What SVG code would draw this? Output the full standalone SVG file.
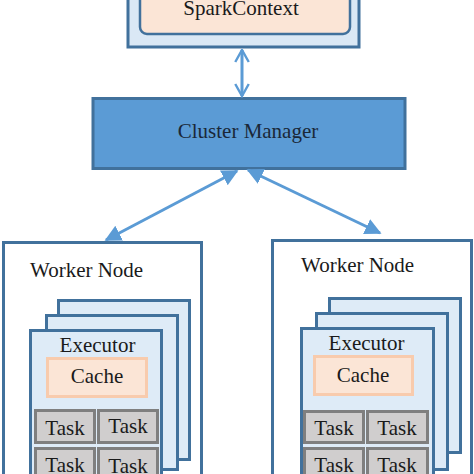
<svg xmlns="http://www.w3.org/2000/svg" width="474" height="474" viewBox="0 0 474 474" font-family="'Liberation Serif', 'DejaVu Serif', serif">
<style>
text{font-family:'Liberation Serif','DejaVu Serif',serif;font-size:21px;fill:#1a1a1a}
.worker{fill:#ffffff;stroke:#41719c;stroke-width:3}
.exec{fill:#deebf7;stroke:#41719c;stroke-width:3}
.cache{fill:#fbe5d6;stroke:#f8cbad;stroke-width:3}
.task{fill:#d0cece;stroke:#7f7f7f;stroke-width:3}
.conn{stroke:#5b9bd5;stroke-width:3;fill:none}
</style>
<defs>
<marker id="tri" viewBox="0 0 10 10" refX="9" refY="5" markerWidth="5.5" markerHeight="5.5" orient="auto-start-reverse" markerUnits="strokeWidth">
<path d="M0,0 L10,5 L0,10 z" fill="#5b9bd5"/>
</marker>
<marker id="chev" viewBox="0 0 10 10" refX="9" refY="5" markerWidth="5" markerHeight="6" orient="auto-start-reverse" markerUnits="strokeWidth">
<path d="M1,0.5 L9,5 L1,9.5" fill="none" stroke="#5b9bd5" stroke-width="1.6"/>
</marker>
</defs>

<g id="driver">
<rect x="128" y="-10" width="231" height="57" fill="#dae8f5" stroke="#41719c" stroke-width="3"/>
<rect x="140" y="-10" width="210" height="44" rx="7" fill="#fbe5d6" stroke="#41719c" stroke-width="2.5"/>
<text x="241" y="15" text-anchor="middle">SparkContext</text>
</g>

<g id="cluster-manager">
<rect x="93" y="98.5" width="312" height="70" fill="#5b9bd5" stroke="#41719c" stroke-width="3"/>
<text x="248" y="138" text-anchor="middle" style="fill:#1a2838">Cluster Manager</text>
</g>

<g id="connectors">
<line class="conn" x1="242" y1="50" x2="242" y2="96" marker-start="url(#chev)" marker-end="url(#chev)"/>
<line class="conn" x1="106" y1="240" x2="237" y2="171" marker-start="url(#tri)" marker-end="url(#tri)"/>
<line class="conn" x1="248" y1="170" x2="380" y2="233" marker-start="url(#tri)" marker-end="url(#tri)"/>
</g>

<g id="worker-left">
<rect class="worker" x="3.5" y="242.5" width="198" height="240"/>
<text x="30" y="277">Worker Node</text>
<rect class="exec" x="58.5" y="300.5" width="131" height="159"/>
<rect class="exec" x="46.5" y="315.5" width="131" height="154"/>
<rect class="exec" x="30.5" y="330.5" width="131" height="160"/>
<text x="97.5" y="352" text-anchor="middle">Executor</text>
<rect class="cache" x="47.5" y="358.5" width="99" height="38"/>
<text x="97" y="383" text-anchor="middle">Cache</text>
<rect class="task" x="35.5" y="410.5" width="59" height="32"/>
<rect class="task" x="98.5" y="410.5" width="59" height="32"/>
<rect class="task" x="35.5" y="448.5" width="59" height="32"/>
<rect class="task" x="98.5" y="448.5" width="59" height="32"/>
<text x="65" y="435" text-anchor="middle">Task</text>
<text x="128" y="433" text-anchor="middle">Task</text>
<text x="65" y="472" text-anchor="middle">Task</text>
<text x="128" y="473" text-anchor="middle">Task</text>
</g>

<g id="worker-right">
<rect class="worker" x="272.5" y="240.5" width="199" height="242"/>
<text x="301" y="272">Worker Node</text>
<rect class="exec" x="329.5" y="298.5" width="131" height="154"/>
<rect class="exec" x="316.5" y="313.5" width="131" height="156"/>
<rect class="exec" x="301.5" y="328.5" width="132" height="160"/>
<text x="366.5" y="350" text-anchor="middle">Executor</text>
<rect class="cache" x="314.5" y="356.5" width="98" height="38"/>
<text x="363" y="382" text-anchor="middle">Cache</text>
<rect class="task" x="304.5" y="411.5" width="59" height="31"/>
<rect class="task" x="367.5" y="411.5" width="60" height="31"/>
<rect class="task" x="304.5" y="448.5" width="59" height="32"/>
<rect class="task" x="367.5" y="448.5" width="60" height="32"/>
<text x="334" y="435" text-anchor="middle">Task</text>
<text x="397" y="435" text-anchor="middle">Task</text>
<text x="334" y="472" text-anchor="middle">Task</text>
<text x="397" y="472" text-anchor="middle">Task</text>
</g>
</svg>
